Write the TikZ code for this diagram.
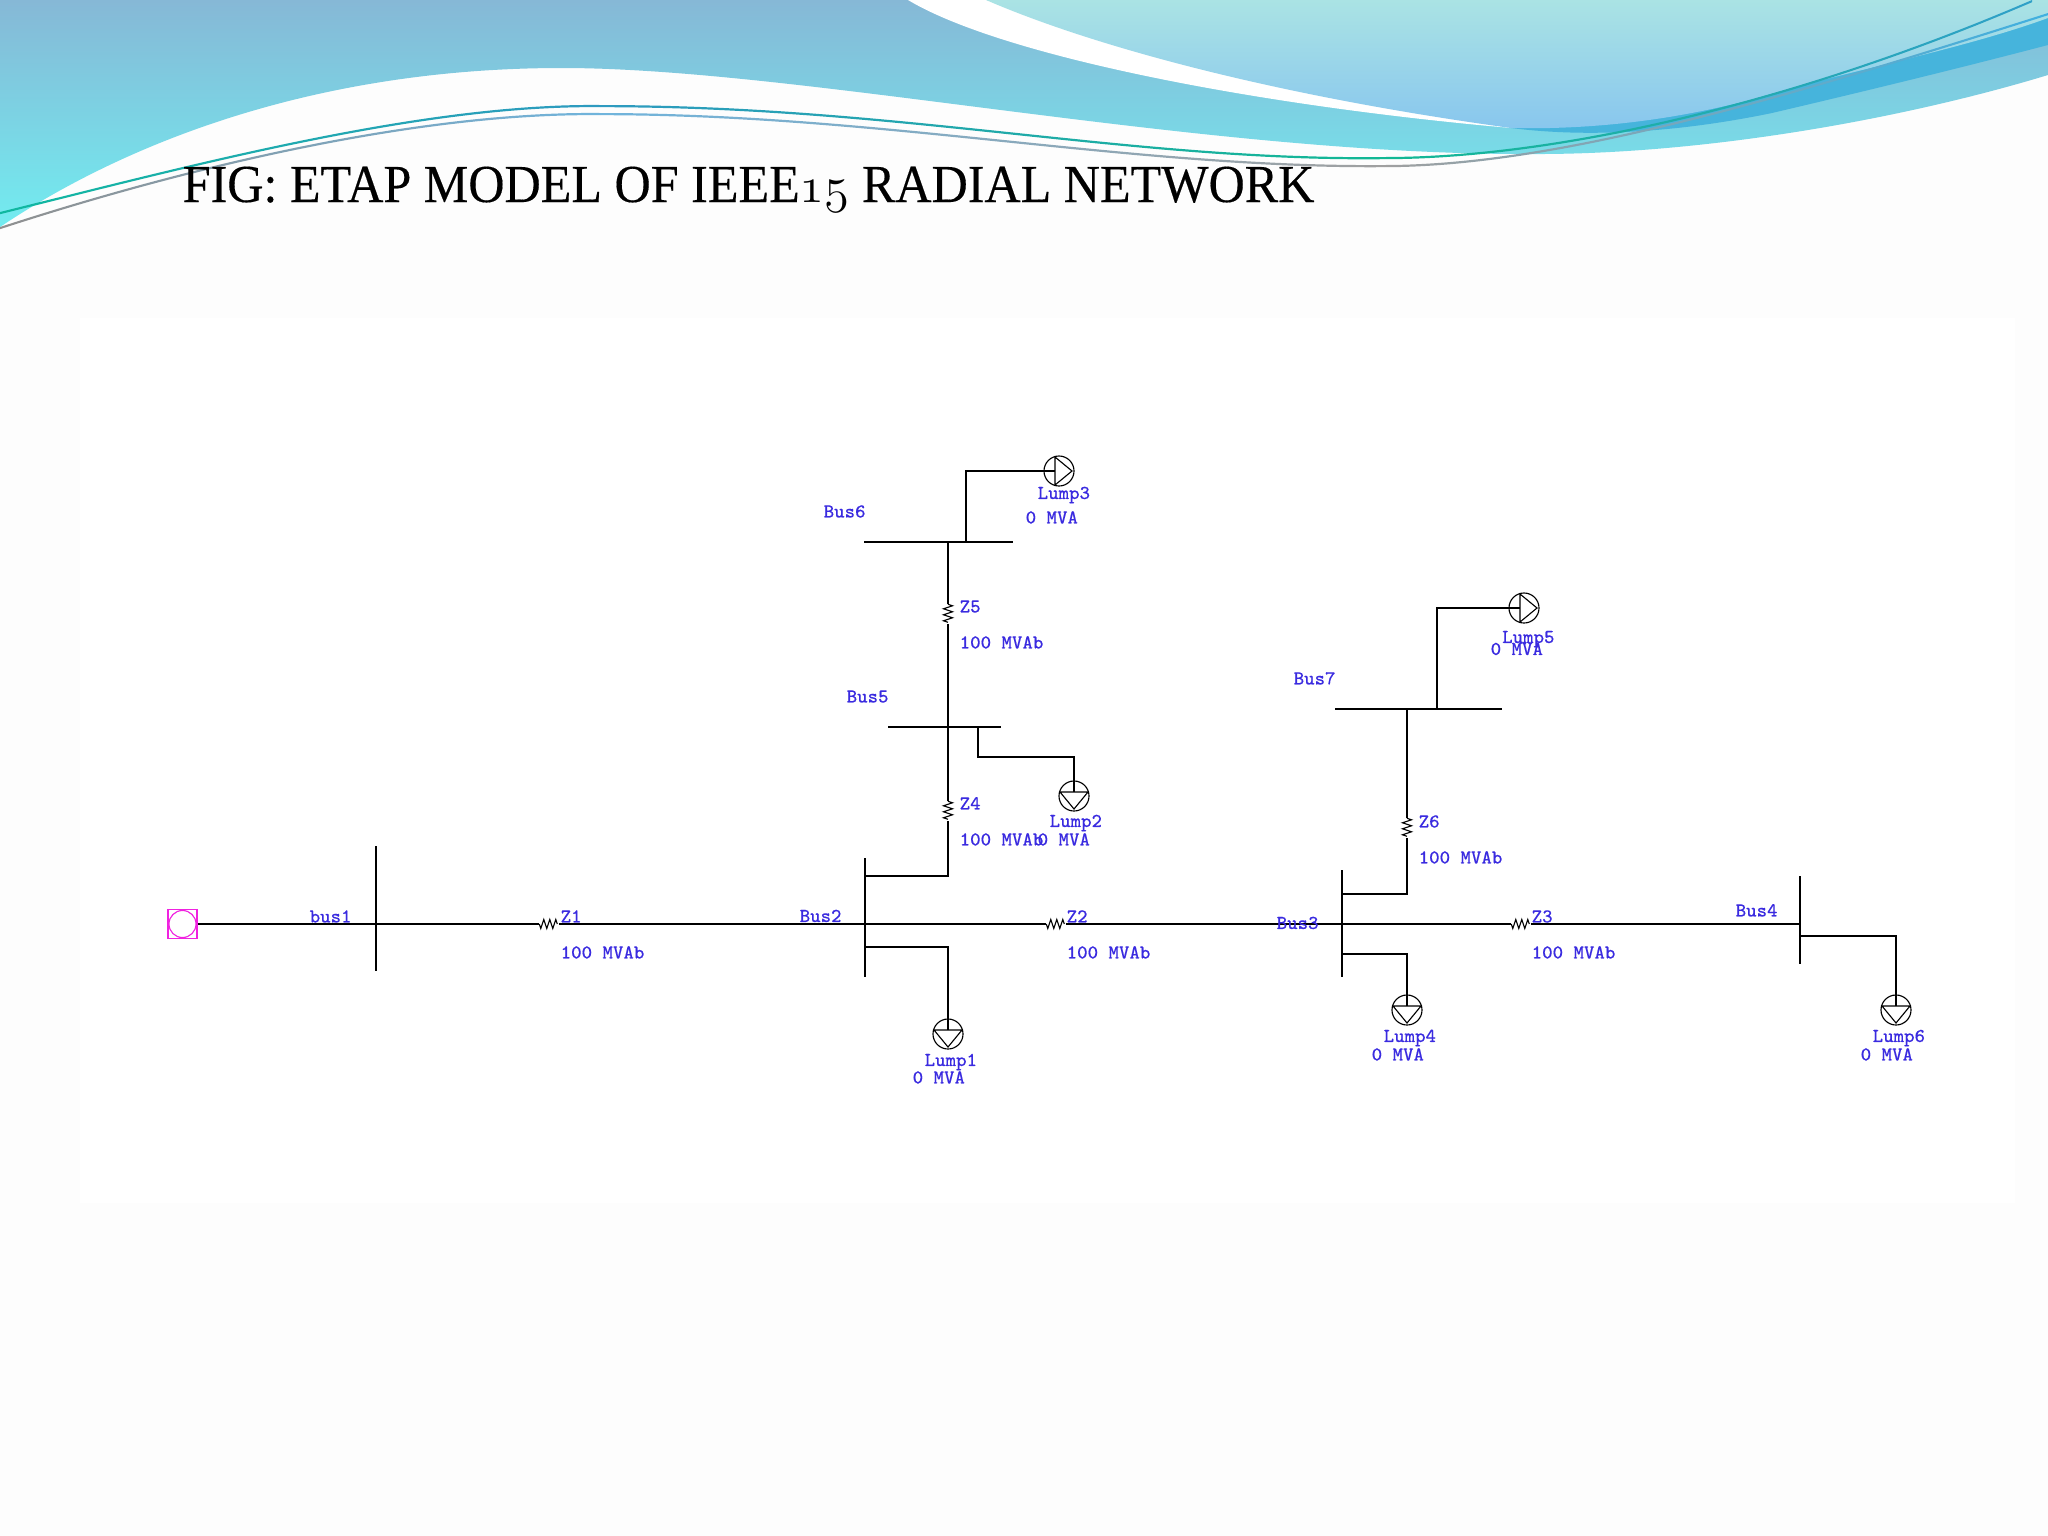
\documentclass[tikz,border=0pt]{standalone}
\usepackage{fontspec}

\newfontfamily\titlefont[FakeStretch=0.938, FakeBold=0.25]{Liberation Serif}
\newfontfamily\etapfont[FakeBold=0.3]{Latin Modern Mono}

\definecolor{etapblue}{HTML}{3A2BE0}
\definecolor{srcpink}{HTML}{F022E0}
\definecolor{pagegrey}{HTML}{FDFDFD}
\definecolor{waveband}{HTML}{46B4DC}

\tikzset{
  wire/.style = {line width = 0.42pt, black},
  symb/.style = {line width = 0.32pt, black},
  lab/.style = {etapblue, anchor = west, inner sep = 0pt, text height = 3.4pt, text depth = 0pt, font = \fontsize{5.6}{6}\etapfont},
  lumpc/.style = {circle, draw, line width = 0.32pt, minimum size = 0.30cm, inner sep = 0pt},
  zee/.style = {minimum width = 0.18cm, minimum height = 0.18cm, inner sep = 0pt}
}

% load symbol, triangle down
\newcommand{\lumpdown}[3]{
\node[lumpc] (#1) at (#2, #3) {};
\coordinate (#1in) at (#2, #3 - 4);
\draw[symb] (#2 - 14, #3 - 4) -- (#2 + 14, #3 - 4) -- (#2, #3 + 13) -- cycle;
}
% load symbol, triangle right
\newcommand{\lumpright}[3]{
\node[lumpc] (#1) at (#2, #3) {};
\coordinate (#1in) at (#2 - 4, #3);
\draw[symb] (#2 - 4, #3 - 14) -- (#2 - 4, #3 + 14) -- (#2 + 13, #3) -- cycle;
}
% impedance on a horizontal line
\newcommand{\zeeh}[1]{
\draw[symb] (#1.west) -- ++(1.5, 4.5) -- ++(3, -9) -- ++(3, 9) -- ++(3, -9) -- ++(3, 9) -- ++(3, -9) -- ++(1.5, 4.5);
}
% impedance on a vertical line
\newcommand{\zeev}[1]{
\draw[symb] (#1.north) -- ++(4.5, 1.5) -- ++(-9, 3) -- ++(9, 3) -- ++(-9, 3) -- ++(9, 3) -- ++(-9, 3) -- ++(4.5, 1.5);
}
% thin line of the header, its colour runs from left to right
\newcommand{\ribbon}[7]{
\shade[left color = #1, middle color = #2, right color = #3] (#4) .. controls (#5) and (#6) .. (#7)
  -- ([yshift = -0.022cm]#7) .. controls ([yshift = -0.022cm]#6) and ([yshift = -0.022cm]#5) .. ([yshift = -0.022cm]#4) -- cycle;
}

\definecolor{ca}{HTML}{10B8A0}
\definecolor{cb}{HTML}{2E9FB8}
\definecolor{cc}{HTML}{2E9AC0}
\definecolor{cd}{HTML}{1E9EB0}
\definecolor{ce}{HTML}{12B894}
\definecolor{cf}{HTML}{30A0C8}
\definecolor{da}{HTML}{909090}
\definecolor{db}{HTML}{2878C0}
\definecolor{dc}{HTML}{70B4DC}
\definecolor{dd}{HTML}{1A60B0}
\definecolor{de}{HTML}{A0A0A0}
\definecolor{df}{HTML}{3A80B0}
\definecolor{dg}{HTML}{40B0E0}
\definecolor{wavetop}{HTML}{86B8D6}
\definecolor{wavebot}{HTML}{72ECF0}
\definecolor{lighttop}{HTML}{AAE3E4}
\definecolor{lightbot}{HTML}{88C6EE}

\begin{document}
\begin{tikzpicture}[x = 0.01cm, y = -0.01cm]
\useasboundingbox (0, 0) rectangle (2048, 1536);
\fill[pagegrey] (0, 0) rectangle (2048, 1536);
\fill[white] (80, 318) rectangle (2015, 1203);

% header waves
\shade[top color = wavetop, bottom color = wavebot]
  (0, 0) -- (2048, 0) -- (2048, 75)
  .. controls (1900, 120) and (1700, 155) .. (1530, 154)
  .. controls (1200, 155) and (800, 68) .. (562, 68)
  .. controls (320, 68) and (130, 140) .. (0, 227) -- cycle;
\fill[white] (908, 0) .. controls (1000, 55) and (1250, 105) .. (1511, 128)
  -- (1400, 100) -- (986, 0) -- cycle;
\fill[waveband] (1511, 128)
  .. controls (1590, 138) and (1680, 132) .. (1772, 113)
  .. controls (1870, 90) and (1960, 68) .. (2048, 45) -- (2048, 15) -- (1700, 100) -- cycle;
\shade[top color = lighttop, bottom color = lightbot]
  (986, 0) .. controls (1090, 45) and (1270, 95) .. (1511, 128)
  .. controls (1600, 130) and (1680, 118) .. (1750, 100)
  .. controls (1850, 70) and (1960, 50) .. (2048, 18) -- (2048, 0) -- cycle;

% header lines
\ribbon{ca}{cb}{cc}{0, 212}{190, 165}{420, 103}{600, 105}
\ribbon{cc}{cd}{ce}{600, 105}{900, 105}{1130, 160}{1384, 157}
\ribbon{ce}{ce}{cf}{1384, 157}{1560, 157}{1800, 100}{2032, 0}
\ribbon{da}{db}{dc}{0, 227}{190, 165}{420, 111}{600, 113}
\ribbon{dc}{dd}{de}{600, 113}{880, 113}{1130, 167}{1384, 165}
\ribbon{de}{df}{dg}{1384, 165}{1560, 165}{1790, 95}{2048, 13}

% title
\node[anchor = base west, inner sep = 0pt, font = \titlefont\fontsize{15.2}{18}\selectfont] (title) at (182, 202) {FIG: ETAP MODEL OF IEEE$\mathnormal{15}$ RADIAL NETWORK};

% buses
\coordinate (bus1top) at (376, 846);  \coordinate (bus1bot) at (376, 971);  \coordinate (bus1) at (376, 924);
\coordinate (bus2top) at (865, 858);  \coordinate (bus2bot) at (865, 977);  \coordinate (bus2) at (865, 924);
\coordinate (bus3top) at (1342, 870); \coordinate (bus3bot) at (1342, 977); \coordinate (bus3) at (1342, 924);
\coordinate (bus4top) at (1800, 876); \coordinate (bus4bot) at (1800, 964); \coordinate (bus4) at (1800, 924);
\coordinate (bus5l) at (888, 727);    \coordinate (bus5r) at (1001, 727);
\coordinate (bus6l) at (864, 542);    \coordinate (bus6r) at (1013, 542);
\coordinate (bus7l) at (1335, 709);   \coordinate (bus7r) at (1502, 709);
\draw[wire] (bus1top) -- (bus1bot);
\draw[wire] (bus2top) -- (bus2bot);
\draw[wire] (bus3top) -- (bus3bot);
\draw[wire] (bus4top) -- (bus4bot);
\draw[wire] (bus5l) -- (bus5r);
\draw[wire] (bus6l) -- (bus6r);
\draw[wire] (bus7l) -- (bus7r);

% source
\node[draw = srcpink, line width = 0.45pt, minimum size = 0.29cm, inner sep = 0pt] (src) at (182.5, 924) {};
\node[draw = srcpink, circle, line width = 0.32pt, minimum size = 0.27cm, inner sep = 0pt] (srcc) at (182.5, 924) {};

% impedances
\node[zee] (z1) at (549, 924) {}; \zeeh{z1}
\node[zee] (z2) at (1056, 924) {}; \zeeh{z2}
\node[zee] (z3) at (1521, 924) {}; \zeeh{z3}
\node[zee] (z4) at (948, 811) {}; \zeev{z4}
\node[zee] (z5) at (948, 614) {}; \zeev{z5}
\node[zee] (z6) at (1407, 828) {}; \zeev{z6}

% loads
\lumpdown{lump1}{948}{1034}
\lumpdown{lump2}{1074}{796}
\lumpright{lump3}{1059}{471}
\lumpdown{lump4}{1407}{1010}
\lumpright{lump5}{1524}{608}
\lumpdown{lump6}{1896}{1010}

% main line
\draw[wire] (src) -- (z1);
\draw[wire] (z1) -- (z2);
\draw[wire] (z2) -- (z3);
\draw[wire] (z3) -- (bus4);

% branches
\coordinate (bus2a) at (865, 876);
\coordinate (bus2b) at (865, 947);
\coordinate (bus3a) at (1342, 894);
\coordinate (bus3b) at (1342, 954);
\coordinate (bus4a) at (1800, 936);
\coordinate (bus5a) at (948, 727);
\coordinate (bus5b) at (978, 727);
\coordinate (bus5c) at (978, 757);
\coordinate (bus6a) at (948, 542);
\coordinate (bus6b) at (966, 542);
\coordinate (bus7a) at (1407, 709);
\coordinate (bus7b) at (1437, 709);
\draw[wire] (bus2a) -| (z4.south);
\draw[wire] (z4.north) -- (bus5a);
\draw[wire] (bus5a) -- (z5.south);
\draw[wire] (z5.north) -- (bus6a);
\draw[wire] (bus6b) |- (lump3in);
\draw[wire] (bus2b) -| (lump1in);
\draw[wire] (bus5b) -- (bus5c) -| (lump2in);
\draw[wire] (bus3a) -| (z6.south);
\draw[wire] (z6.north) -- (bus7a);
\draw[wire] (bus7b) |- (lump5in);
\draw[wire] (bus3b) -| (lump4in);
\draw[wire] (bus4a) -| (lump6in);

% labels
\node[lab] (lbus1) at (309, 916.5) {bus1};
\node[lab] (lbus2) at (799, 916) {Bus2};
\node[lab] (lbus3) at (1276, 923) {Bus3};
\node[lab] (lbus4) at (1735, 910.5) {Bus4};
\node[lab] (lbus5) at (846, 696.5) {Bus5};
\node[lab] (lbus6) at (823, 511.5) {Bus6};
\node[lab] (lbus7) at (1293, 678.5) {Bus7};

\node[lab] (lz1) at (560, 916.5) {Z1};
\node[lab] (mz1) at (560, 952.5) {100 MVAb};
\node[lab] (lz2) at (1066, 916.5) {Z2};
\node[lab] (mz2) at (1066, 952.5) {100 MVAb};
\node[lab] (lz3) at (1531, 916.5) {Z3};
\node[lab] (mz3) at (1531, 952.5) {100 MVAb};
\node[lab] (lz4) at (959, 803.5) {Z4};
\node[lab] (mz4) at (959, 839.5) {100 MVAb};
\node[lab] (lz5) at (959, 606.5) {Z5};
\node[lab] (mz5) at (959, 642.5) {100 MVAb};
\node[lab] (lz6) at (1418, 821.5) {Z6};
\node[lab] (mz6) at (1418, 857.5) {100 MVAb};

\node[lab] (llump1) at (924, 1060) {Lump1};
\node[lab] (slump1) at (912, 1077.5) {0 MVA};
\node[lab] (llump2) at (1049, 821) {Lump2};
\node[lab] (slump2) at (1037, 839.5) {0 MVA};
\node[lab] (llump3) at (1037, 493) {Lump3};
\node[lab] (slump3) at (1025, 517.5) {0 MVA};
\node[lab] (llump4) at (1383, 1036) {Lump4};
\node[lab] (slump4) at (1371, 1054.5) {0 MVA};
\node[lab] (llump5) at (1501.5, 637) {Lump5};
\node[lab] (slump5) at (1490, 649) {0 MVA};
\node[lab] (llump6) at (1872, 1036) {Lump6};
\node[lab] (slump6) at (1860, 1054.5) {0 MVA};
\end{tikzpicture}
\end{document}
